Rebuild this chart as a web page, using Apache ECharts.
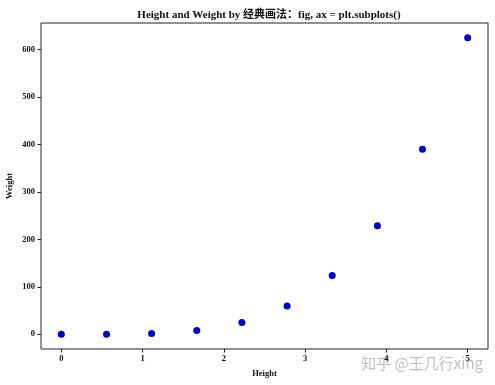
<!DOCTYPE html>
<html>
<head>
<meta charset="utf-8">
<script src="https://cdn.jsdelivr.net/npm/echarts@6/dist/echarts.min.js"></script>
<style>html,body{margin:0;padding:0;background:#fff}#c{width:495px;height:385px}</style>
</head>
<body>
<div id="c"></div>
<script>
const heights = [0, 0.556, 1.111, 1.667, 2.222, 2.778, 3.333, 3.889, 4.444, 5];
const weights = [0, 0.1, 1.5, 7.7, 24.4, 59.5, 123.5, 228.7, 390.1, 625];
const xTicks = [0, 1, 2, 3, 4, 5];
const yTicks = [0, 100, 200, 300, 400, 500, 600];

const serif = '"Liberation Serif", "DejaVu Serif", serif';
const chart = echarts.init(document.getElementById('c'), null, {renderer: 'canvas'});
chart.setOption({
  backgroundColor: '#fff',
  animation: false,
  title: {
    text: 'Height and Weight by 经典画法：fig, ax = plt.subplots()',
    left: 264, textAlign: 'center', top: 5,
    textStyle: {fontFamily: serif + ', "Noto Sans CJK SC"', fontSize: 11, fontWeight: 'bold', color: '#111'}
  },
  grid: {left: 41, right: 7, top: 23, bottom: 36, containLabel: false, outerBoundsMode: 'none',
         show: true, borderColor: '#222', borderWidth: 1, backgroundColor: 'transparent'},
  xAxis: {
    type: 'value', min: -0.25, max: 5.25, position: 'bottom',
    name: 'Height', nameLocation: 'middle', nameGap: 20, nameMoveOverlap: false,
    nameTextStyle: {fontFamily: serif, fontSize: 8.5, fontWeight: 'bold', color: '#111'},
    axisLine: {show: false, onZero: false},
    splitLine: {show: false},
    axisTick: {show: true, inside: false, customValues: xTicks, length: 3.5, lineStyle: {color: '#222'}},
    axisLabel: {customValues: xTicks, fontFamily: serif, fontSize: 8.5, fontWeight: 'bold', color: '#111', margin: 5}
  },
  yAxis: {
    type: 'value', min: -31.25, max: 656.25, position: 'left',
    name: 'Weight', nameLocation: 'middle', nameGap: 27, nameRotate: 90, nameMoveOverlap: false,
    nameTextStyle: {fontFamily: serif, fontSize: 8.5, fontWeight: 'bold', color: '#111'},
    axisLine: {show: false, onZero: false},
    splitLine: {show: false},
    axisTick: {show: true, inside: false, customValues: yTicks, length: 3.5, lineStyle: {color: '#222'}},
    axisLabel: {customValues: yTicks, fontFamily: serif, fontSize: 8.5, fontWeight: 'bold', color: '#111', margin: 6}
  },
  graphic: [{
    type: 'text', right: 12, bottom: 14,
    style: {text: '知乎 @王几行xing', fontFamily: '"Noto Sans CJK SC", sans-serif', fontSize: 15, fill: 'rgba(150,150,150,0.6)'}
  }],
  series: [{
    type: 'scatter',
    data: heights.map((h, i) => [h, weights[i]]),
    symbol: 'circle', symbolSize: 7,
    itemStyle: {color: '#0000cc', opacity: 1}
  }]
});
</script>
</body>
</html>
